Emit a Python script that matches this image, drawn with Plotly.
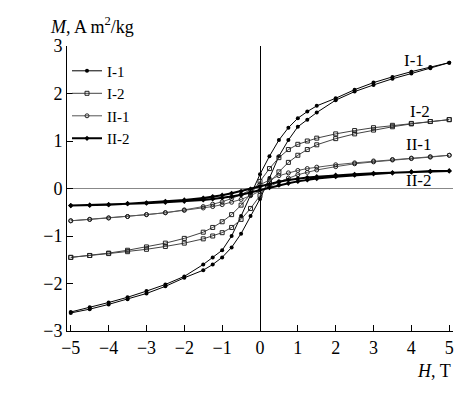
import plotly.graph_objects as go

# Field values for the descending branch (from +5 T to -5 T); ascending branch is the reverse
H_down = [5, 4.5, 4, 3.5, 3, 2.5, 2, 1.5, 1.25, 1, 0.75, 0.5, 0.25, 0,
          -0.25, -0.5, -0.75, -1, -1.25, -1.5, -2, -2.5, -3, -3.5, -4, -4.5, -5]
H_up = [-5, -4.5, -4, -3.5, -3, -2.5, -2, -1.5, -1.25, -1, -0.75, -0.5, -0.25, 0,
        0.25, 0.5, 0.75, 1, 1.25, 1.5, 2, 2.5, 3, 3.5, 4, 4.5, 5]

# Magnetization, A m^2/kg (descending branch, then ascending branch)
I1_down = [2.65, 2.56, 2.46, 2.35, 2.23, 2.08, 1.90, 1.74, 1.62, 1.48, 1.28, 1.02, 0.68, 0.30,
           -0.15, -0.58, -1.00, -1.30, -1.45, -1.60, -1.85, -2.02, -2.16, -2.29, -2.40, -2.50, -2.60]
I1_up = [-2.62, -2.54, -2.44, -2.33, -2.21, -2.06, -1.88, -1.72, -1.60, -1.45, -1.24, -0.95, -0.58, -0.22,
         0.22, 0.68, 1.02, 1.30, 1.45, 1.60, 1.86, 2.04, 2.18, 2.31, 2.42, 2.53, 2.65]

I2_down = [1.45, 1.41, 1.37, 1.33, 1.28, 1.22, 1.15, 1.06, 1.00, 0.93, 0.82, 0.65, 0.42, 0.15,
           -0.12, -0.35, -0.55, -0.70, -0.82, -0.92, -1.05, -1.15, -1.23, -1.30, -1.36, -1.41, -1.45]
I2_up = [-1.45, -1.41, -1.37, -1.33, -1.28, -1.22, -1.15, -1.06, -1.00, -0.93, -0.82, -0.65, -0.42, -0.15,
         0.12, 0.35, 0.55, 0.70, 0.82, 0.92, 1.05, 1.15, 1.23, 1.30, 1.36, 1.41, 1.45]

II1_down = [0.70, 0.67, 0.64, 0.61, 0.58, 0.54, 0.50, 0.45, 0.42, 0.38, 0.33, 0.27, 0.18, 0.08,
            -0.03, -0.13, -0.21, -0.28, -0.33, -0.38, -0.45, -0.51, -0.55, -0.59, -0.62, -0.65, -0.68]
II1_up = [-0.68, -0.65, -0.62, -0.59, -0.55, -0.51, -0.46, -0.41, -0.38, -0.34, -0.29, -0.23, -0.15, -0.06,
          0.04, 0.14, 0.22, 0.29, 0.34, 0.39, 0.46, 0.52, 0.56, 0.60, 0.63, 0.66, 0.70]

II2_down = [0.37, 0.36, 0.35, 0.33, 0.32, 0.30, 0.28, 0.25, 0.23, 0.21, 0.18, 0.14, 0.09, 0.04,
            -0.01, -0.06, -0.10, -0.14, -0.17, -0.20, -0.24, -0.27, -0.30, -0.32, -0.34, -0.35, -0.36]
II2_up = [-0.36, -0.35, -0.34, -0.32, -0.31, -0.29, -0.27, -0.24, -0.22, -0.20, -0.17, -0.13, -0.08, -0.03,
          0.02, 0.07, 0.11, 0.15, 0.18, 0.21, 0.25, 0.28, 0.31, 0.33, 0.35, 0.36, 0.37]

names = ["I-1", "I-2", "II-1", "II-2"]
label_x = [4.06, 4.22, 4.2, 4.2]
label_y = [2.69, 1.63, 0.92, 0.17]

x_ticks = [-5, -4, -3, -2, -1, 0, 1, 2, 3, 4, 5]
y_ticks = [-3, -2, -1, 0, 1, 2, 3]

FONT = "Liberation Serif"

styles = [
    dict(line=dict(color="black", width=1), marker=dict(symbol="circle", size=4, color="black")),
    dict(line=dict(color="#444", width=1), marker=dict(symbol="square-open", size=4, color="#222", line=dict(width=1))),
    dict(line=dict(color="#555", width=1), marker=dict(symbol="circle-open", size=4, color="#222", line=dict(width=1))),
    dict(line=dict(color="black", width=2), marker=dict(symbol="diamond", size=4, color="black")),
]
series = [(I1_down, I1_up), (I2_down, I2_up), (II1_down, II1_up), (II2_down, II2_up)]

fig = go.Figure()
for name, (down, up), st in zip(names, series, styles):
    fig.add_trace(go.Scatter(
        x=H_down + H_up, y=down + up, mode="lines+markers", name=name,
        line=st["line"], marker=st["marker"], showlegend=True))

for name, lx, ly in zip(names, label_x, label_y):
    fig.add_annotation(x=lx, y=ly, text=name, showarrow=False,
                       font=dict(family=FONT, size=17, color="black"))

fig.add_annotation(xref="paper", yref="paper", x=-0.05, y=1.025, xanchor="left", yanchor="bottom",
                   text="<i>M</i>, A m<sup>2</sup>/kg", showarrow=False,
                   font=dict(family=FONT, size=18, color="black"))
fig.add_annotation(xref="paper", yref="paper", x=1.0, y=-0.14, xanchor="right", yanchor="middle",
                   text="<i>H</i>, T", showarrow=False,
                   font=dict(family=FONT, size=18, color="black"))

fig.update_layout(
    width=474, height=397,
    margin=dict(l=59, r=29, t=38, b=74),
    paper_bgcolor="white", plot_bgcolor="white",
    font=dict(family=FONT, size=18, color="black"),
    legend=dict(x=0.0, y=0.97, xanchor="left", yanchor="top",
                bgcolor="rgba(0,0,0,0)", font=dict(family=FONT, size=15, color="black"),
                itemwidth=30),
    xaxis=dict(range=[-5.1, 5.1], tickvals=x_ticks, ticks="inside", ticklen=6,
               tickcolor="black", showline=True, linecolor="black", linewidth=1,
               showgrid=False, zeroline=True, zerolinecolor="black", zerolinewidth=1,
               automargin=False),
    yaxis=dict(range=[-3, 3], tickvals=y_ticks, ticks="inside", ticklen=6,
               tickcolor="black", showline=True, linecolor="black", linewidth=1,
               showgrid=False, zeroline=True, zerolinecolor="#888", zerolinewidth=1,
               automargin=False),
)

fig.write_html("out.html")
